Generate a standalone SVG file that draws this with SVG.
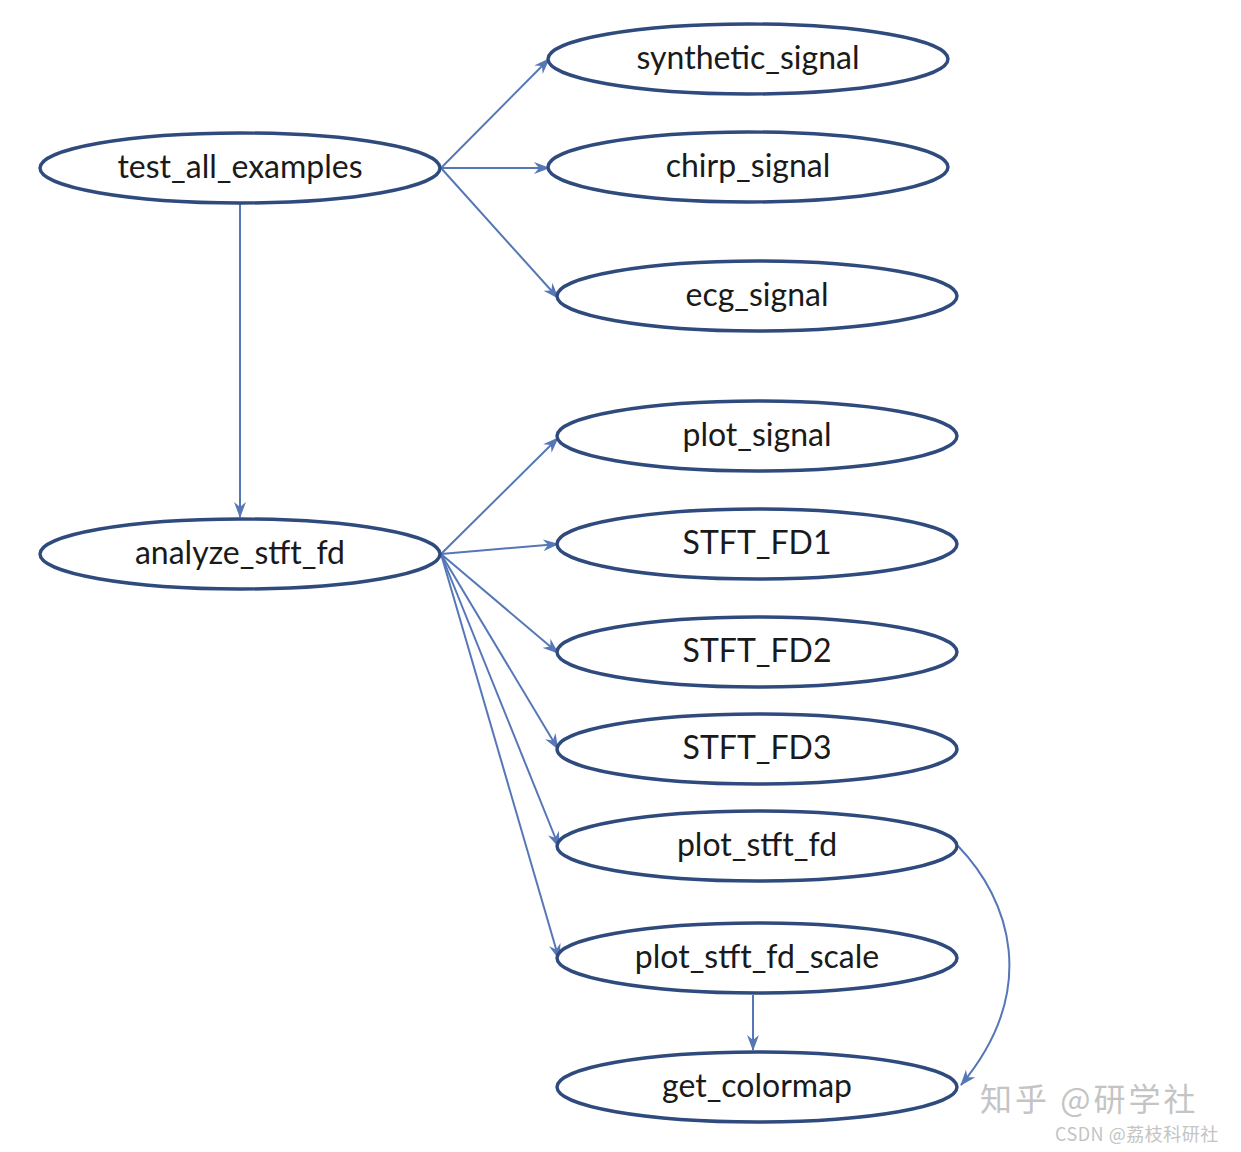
<svg xmlns="http://www.w3.org/2000/svg" width="1241" height="1152" viewBox="0 0 1241 1152">
<style>
.node ellipse{fill:#fff;stroke:#2f4a7c;stroke-width:3.4}
.node text{font-family:Lato,"Open Sans","Liberation Sans",sans-serif;font-size:32px;fill:#1a1a1a;text-anchor:middle}
.edges path,.edges line{stroke:#5577b8;stroke-width:2;fill:none;marker-end:url(#arr)}
.wm{font-family:"Noto Sans CJK SC","Noto Sans",sans-serif;fill:#c4c4c4}
</style>
<defs>
<marker id="arr" viewBox="0 0 16 12" refX="15" refY="6" markerWidth="16" markerHeight="12" markerUnits="userSpaceOnUse" orient="auto">
<path d="M0,0 L16,6 L0,12 L5,6 Z" fill="#5577b8"/>
</marker>
</defs>
<rect width="1241" height="1152" fill="#fff"/>
<g class="edges">
<line x1="441" y1="168" x2="549" y2="59"/>
<line x1="441" y1="168" x2="549" y2="168"/>
<line x1="441" y1="168" x2="558" y2="298"/>
<line x1="240" y1="204" x2="240" y2="517"/>
<line x1="441" y1="554" x2="558" y2="438"/>
<line x1="441" y1="554" x2="558" y2="544"/>
<line x1="441" y1="554" x2="558" y2="653"/>
<line x1="441" y1="554" x2="558" y2="749"/>
<line x1="441" y1="554" x2="559" y2="847"/>
<line x1="441" y1="554" x2="559" y2="959"/>
<line x1="753" y1="995" x2="753" y2="1050"/>
<path d="M958,846 C1010,900 1040,990 961,1085"/>
</g>
<g id="test_all_examples" class="node"><ellipse cx="240" cy="168" rx="200" ry="35"/><text x="240" y="178">test_all_examples</text></g>
<g id="synthetic_signal" class="node"><ellipse cx="748" cy="59" rx="200" ry="35"/><text x="748" y="69">synthetic_signal</text></g>
<g id="chirp_signal" class="node"><ellipse cx="748" cy="167" rx="200" ry="35"/><text x="748" y="177">chirp_signal</text></g>
<g id="ecg_signal" class="node"><ellipse cx="757" cy="296" rx="200" ry="35"/><text x="757" y="306">ecg_signal</text></g>
<g id="analyze_stft_fd" class="node"><ellipse cx="240" cy="554" rx="200" ry="35"/><text x="240" y="564">analyze_stft_fd</text></g>
<g id="plot_signal" class="node"><ellipse cx="757" cy="436" rx="200" ry="35"/><text x="757" y="446">plot_signal</text></g>
<g id="STFT_FD1" class="node"><ellipse cx="757" cy="544" rx="200" ry="35"/><text x="757" y="554">STFT_FD1</text></g>
<g id="STFT_FD2" class="node"><ellipse cx="757" cy="652" rx="200" ry="35"/><text x="757" y="662">STFT_FD2</text></g>
<g id="STFT_FD3" class="node"><ellipse cx="757" cy="749" rx="200" ry="35"/><text x="757" y="759">STFT_FD3</text></g>
<g id="plot_stft_fd" class="node"><ellipse cx="757" cy="846" rx="200" ry="35"/><text x="757" y="856">plot_stft_fd</text></g>
<g id="plot_stft_fd_scale" class="node"><ellipse cx="757" cy="958" rx="200" ry="35"/><text x="757" y="968">plot_stft_fd_scale</text></g>
<g id="get_colormap" class="node"><ellipse cx="757" cy="1087" rx="200" ry="35"/><text x="757" y="1097">get_colormap</text></g>
<g id="watermark">
<text class="wm" x="980" y="1111" font-size="32" letter-spacing="3">知乎 @研学社</text>
<text class="wm" x="1055" y="1141" font-size="18" letter-spacing="0.5" fill="#b0b0b0">CSDN @荔枝科研社</text>
</g>
</svg>
